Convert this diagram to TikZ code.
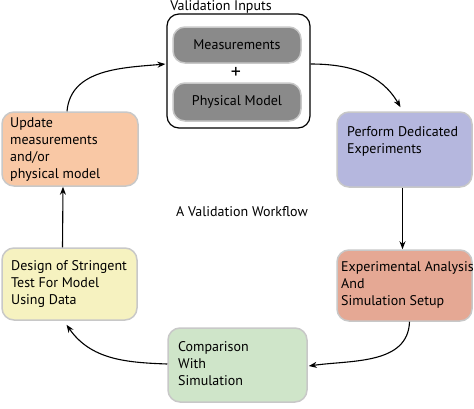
\documentclass[tikz,border=0pt]{standalone}
\usepackage{fontspec}
\setmainfont{PT Sans}
\usetikzlibrary{arrows.meta,calc}
\definecolor{cUpd}{HTML}{F9C8A5}
\definecolor{cPerf}{HTML}{B5B7DE}
\definecolor{cExp}{HTML}{E5A894}
\definecolor{cComp}{HTML}{CFE5C9}
\definecolor{cDes}{HTML}{F6F2C0}
\definecolor{cGray}{HTML}{8A8A8A}
\definecolor{cBord}{HTML}{C8C8C8}
\newcommand{\mytxt}{\fontsize{14}{17}\selectfont}
\begin{document}
\begin{tikzpicture}[x=1pt,y=-1pt,
  every node/.style={font=\mytxt},
  stagebox/.style={draw=cBord, line width=1.5pt, rounded corners=12pt, inner sep=0pt},
  stagetext/.style={anchor=west, align=left, inner sep=0pt},
  graybox/.style={draw=cBord, fill=cGray, line width=1.5pt, rounded corners=12pt, minimum width=128pt},
  outerbox/.style={draw=black, line width=1.2pt, rounded corners=12pt, minimum width=143pt, minimum height=114pt},
  flow/.style={-{Stealth[length=8pt,width=6pt]}, line width=1.1pt, black}]
\useasboundingbox (0,0) rectangle (474,408);
% Validation inputs
\node[outerbox] (outer) at (238.5,71) {};
\node (vtitle) at (221,7) {Validation Inputs};
\node[graybox, minimum height=36pt] (meas) at (237,45) {Measurements};
\node[font=\fontsize{20}{20}\selectfont] (plus) at (236,73) {+};
\node[graybox, minimum height=38pt] (phys) at (237,102) {Physical Model};
% stages
\node[stagebox, fill=cUpd, minimum width=136pt, minimum height=74pt] (upd) at (70,149) {};
\node[stagetext] (updt) at (10,150) {Update\\measurements\\and/or\\physical model};
\node[stagebox, fill=cPerf, minimum width=135pt, minimum height=75pt] (perf) at (404.5,149.5) {};
\node[stagetext] (perft) at (347,141) {Perform Dedicated\\Experiments};
\node[stagebox, fill=cExp, minimum width=135pt, minimum height=71pt] (exp) at (404.5,285.5) {};
\node[stagetext] (expt) at (341,285) {Experimental Analysis\\And\\Simulation Setup};
\node[stagebox, fill=cComp, minimum width=139pt, minimum height=74pt] (comp) at (237.5,365) {};
\node[stagetext] (compt) at (178,364) {Comparison\\With\\Simulation};
\node[stagebox, fill=cDes, minimum width=135pt, minimum height=72pt] (des) at (69.5,284) {};
\node[stagetext] (dest) at (11,284) {Design of Stringent\\Test For Model\\Using Data};
\node (wf) at (242,212) {A Validation Workflow};
% connectors
\draw[flow] ($(upd.north)+(-3,0)$) to[out=85,in=185] ($(outer.west)+(-1,-7)$);
\draw[flow] ($(outer.east)+(0,-7)$) to[out=0,in=120] ($(perf.north)+(-4,-4)$);
\draw[flow] ($(perf.south)+(-2,0)$) -- ($(exp.north)+(-2,0)$);
\draw[flow] ($(exp.south)+(5,0)$) to[out=-92,in=8] ($(comp.east)+(1,1)$);
\draw[flow] ($(comp.west)+(0,-1)$) to[out=178,in=-55] ($(des.south)+(-3,4)$);
\draw[flow] ($(des.north)+(-7,0)$) -- ($(upd.south)+(-7,0)$);
\end{tikzpicture}
\end{document}
